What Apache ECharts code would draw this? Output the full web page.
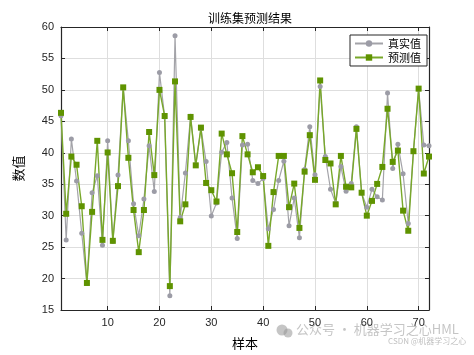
<!DOCTYPE html>
<html><head><meta charset="utf-8">
<script src="https://cdn.jsdelivr.net/npm/echarts@6/dist/echarts.min.js"></script>
<style>html,body{margin:0;padding:0;background:#fff}#c{width:474px;height:355px}</style>
</head><body><div id="c"></div>
<script>
const titleText = '训练集预测结果';
const xName = '样本';
const yName = '数值';
const seriesNames = ['真实值', '预测值'];
const xTicks = [10, 20, 30, 40, 50, 60, 70];
const realValues = [45.9, 26.15, 42.2, 35.5, 27.2, 19.2, 33.65, 36.35, 25.3, 41.9, 25.9, 36.45, 50.3, 41.9, 31.9, 26.8, 32.65, 41.1, 33.85, 52.75, 45.7, 17.25, 58.6, 29.7, 36.8, 45.8, 38.1, 43.85, 38.6, 29.95, 32.0, 40.1, 41.65, 32.8, 26.35, 41.25, 41.35, 35.6, 35.1, 35.9, 27.9, 31.0, 35.6, 38.65, 28.4, 32.8, 26.5, 37.35, 44.15, 36.5, 50.55, 39.4, 34.2, 32.0, 37.8, 33.9, 35.1, 44.15, 33.6, 31.35, 34.2, 33.0, 32.5, 49.5, 37.5, 41.35, 36.65, 28.75, 40.2, 50.1, 41.25, 41.1];
const predValues = [46.35, 30.3, 39.4, 38.1, 31.5, 19.3, 30.6, 41.9, 26.15, 40.05, 26.0, 34.7, 50.4, 39.2, 30.9, 24.2, 30.9, 43.3, 36.45, 50.0, 45.85, 18.8, 51.35, 29.1, 31.8, 45.7, 38.0, 44.0, 35.2, 34.05, 32.25, 43.05, 39.75, 36.75, 27.4, 42.65, 39.75, 36.9, 37.7, 36.3, 25.2, 33.75, 39.5, 39.5, 31.35, 35.1, 28.05, 37.0, 42.8, 35.7, 51.5, 38.85, 38.3, 31.8, 39.5, 34.6, 34.5, 43.8, 33.65, 30.0, 32.35, 35.05, 37.75, 47.0, 38.55, 40.35, 30.8, 27.6, 40.25, 50.2, 36.7, 39.4];
const watermark1 = '公众号 · 机器学习之心HML';
const watermark2 = 'CSDN @机器学习之心';

const toPairs = arr => arr.map((v, i) => [i + 1, v]);
const axisColor = '#262626';
const font = 'Liberation Sans, Arial, sans-serif';
const cjk = '"Noto Sans CJK SC", sans-serif';

const chart = echarts.init(document.getElementById('c'));
chart.setOption({
  animation: false,
  backgroundColor: '#fff',
  title: {
    text: titleText, left: 245, top: 7, textAlign: 'center',
    textStyle: {fontSize: 12, fontWeight: 'normal', color: '#000', fontFamily: cjk}
  },
  legend: {
    right: 47, top: 35, orient: 'vertical',
    backgroundColor: '#fff', borderColor: axisColor, borderWidth: 1, borderRadius: 0,
    padding: [3, 6, 3, 4], itemGap: 3, itemWidth: 28, itemHeight: 8,
    textStyle: {fontSize: 11, color: '#000', fontFamily: cjk},
    data: seriesNames
  },
  grid: {left: 61, right: 45, top: 27, bottom: 40},
  xAxis: [{
    type: 'value', min: 1, max: 72, position: 'bottom',
    name: xName, nameLocation: 'middle', nameGap: 27,
    nameTextStyle: {fontSize: 13, color: '#000', fontFamily: cjk},
    axisLine: {show: true, onZero: false, lineStyle: {color: axisColor, width: 1.2}},
    axisTick: {show: true, inside: true, length: 4, customValues: xTicks, lineStyle: {color: axisColor}},
    axisLabel: {show: true, customValues: xTicks, fontSize: 11, color: axisColor, fontFamily: font, margin: 7},
    splitLine: {show: true, lineStyle: {color: '#dedede', width: 1}}
  }, {
    type: 'value', min: 1, max: 72, position: 'top',
    axisLine: {show: true, onZero: false, lineStyle: {color: axisColor, width: 1.2}},
    axisTick: {show: true, inside: true, length: 4, customValues: xTicks, lineStyle: {color: axisColor}},
    axisLabel: {show: false, customValues: xTicks},
    splitLine: {show: false}
  }],
  yAxis: [{
    type: 'value', min: 15, max: 60, interval: 5, position: 'left',
    name: yName, nameLocation: 'middle', nameGap: 36, nameRotate: 90,
    nameTextStyle: {fontSize: 13, color: '#000', fontFamily: cjk},
    axisLine: {show: true, onZero: false, lineStyle: {color: axisColor, width: 1.2}},
    axisTick: {show: true, inside: true, length: 4, lineStyle: {color: axisColor}},
    axisLabel: {fontSize: 11, color: axisColor, fontFamily: font, margin: 7},
    splitLine: {show: true, lineStyle: {color: '#dedede', width: 1}}
  }, {
    type: 'value', min: 15, max: 60, interval: 5, position: 'right',
    axisLine: {show: true, onZero: false, lineStyle: {color: axisColor, width: 1.2}},
    axisTick: {show: true, inside: true, length: 4, lineStyle: {color: axisColor}},
    axisLabel: {show: false},
    splitLine: {show: false}
  }],
  series: [{
    name: seriesNames[0], type: 'line', data: toPairs(realValues), clip: false,
    symbol: 'circle', symbolSize: 5,
    lineStyle: {color: '#a3a3a8', width: 1.2},
    itemStyle: {color: '#9c9ca6', borderWidth: 0}
  }, {
    name: seriesNames[1], type: 'line', data: toPairs(predValues), clip: false,
    symbol: 'rect', symbolSize: 6,
    lineStyle: {color: '#78a82a', width: 1.4},
    itemStyle: {color: '#5f9300', borderWidth: 0}
  }],
  graphic: [{
    type: 'text', left: 296, top: 323,
    style: {text: watermark1, fontSize: 13, fill: 'rgba(150,150,150,0.55)', fontFamily: cjk}
  }, {
    type: 'text', left: 388, top: 337,
    style: {text: watermark2, fontSize: 8, fill: 'rgba(150,150,150,0.6)', fontFamily: cjk}
  }, {
    type: 'circle', shape: {cx: 282, cy: 330, r: 5.5}, style: {fill: 'rgba(150,150,150,0.55)'}
  }, {
    type: 'circle', shape: {cx: 288, cy: 333, r: 4.5}, style: {fill: 'rgba(150,150,150,0.55)'}
  }]
});
</script></body></html>
